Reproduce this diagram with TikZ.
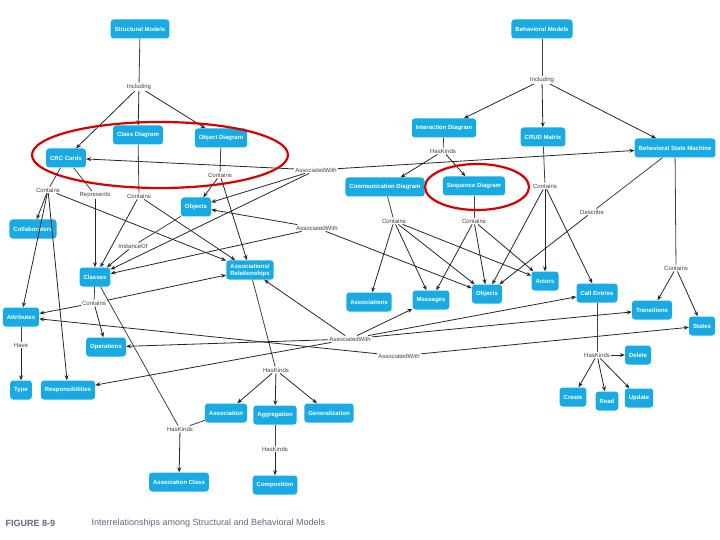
\documentclass[tikz,border=0pt]{standalone}
\usepackage{fontspec}
\setmainfont{Liberation Sans}
\usetikzlibrary{arrows.meta}
\definecolor{box}{RGB}{24,170,226}
\definecolor{cap}{RGB}{100,100,130}
\begin{document}
\begin{tikzpicture}[x=1pt,y=-1pt,
 b/.style={fill=box,text=white,rounded corners=3pt,font=\fontsize{6}{7}\bfseries,inner xsep=4pt,minimum height=19pt,align=center},
 l/.style={font=\fontsize{6}{7}\selectfont,text=black!75,inner sep=1pt,fill=white},
 a/.style={-{Stealth[length=5pt,width=4pt]},thick,black!85},
 n/.style={thick,black!75}]
\useasboundingbox (0,0) rectangle (720,540);
% nodes
\node[b] (SM) at (140,29) {Structural Models};
\node[b] (BM) at (542,29) {Behavioral Models};
\node[l] (I1) at (139,87) {Including};
\node[l] (I2) at (542,80) {Including};
\node[b] (CD) at (138,135) {Class Diagram};
\node[b] (OD) at (221,138) {Object Diagram};
\node[b] (CRC) at (66,158) {CRC Cards};
\node[l] (AW1) at (316,170) {AssociatedWith};
\node[l] (COD) at (220,175) {Contains};
\node[l] (CCRC) at (48,190) {Contains};
\node[l] (REP) at (95,195) {Represents};
\node[l] (CCD) at (139,196) {Contains};
\node[b] (OBJ) at (196,207) {Objects};
\node[b] (COL) at (33,229) {Collaborators};
\node[l] (AW2) at (317,228) {AssociatedWith};
\node[l] (INS) at (133,246) {InstanceOf};
\node[b] (CLA) at (95,277) {Classes};
\node[b] (AR) at (250,270) {Associations/\\Relationships};
\node[l] (CCL) at (94,303) {Contains};
\node[b] (ATT) at (21,317) {Attributes};
\node[b] (OPS) at (106,347) {Operations};
\node[l] (HAV) at (21,345) {Have};
\node[b] (TYP) at (21,390) {Type};
\node[b] (RES) at (68,390) {Responsibilities};
\node[l] (AW3) at (350,339) {AssociatedWith};
\node[l] (AW4) at (399,356) {AssociatedWith};
\node[l] (HAR) at (276,370) {HasKinds};
\node[b] (ASN) at (226,413) {Association};
\node[b] (AGG) at (275,415) {Aggregation};
\node[b] (GEN) at (329,413) {Generalization};
\node[l] (HAC) at (180,429) {HasKinds};
\node[l] (HAG) at (275,449) {HasKinds};
\node[b] (ACL) at (179,482) {Association Class};
\node[b] (CMP) at (275,485) {Composition};
\node[b] (ID) at (444,128) {Interaction Diagram};
\node[b] (CRUD) at (543,137) {CRUD Matrix};
\node[b] (BSM) at (675,148) {Behavioral State Machine};
\node[l] (HID) at (443,151) {HasKinds};
\node[b] (COMM) at (385,187) {Communication Diagram};
\node[b] (SEQ) at (474,186) {Sequence Diagram};
\node[l] (CCR) at (545,186) {Contains};
\node[l] (DES) at (592,212) {Describe};
\node[l] (CCM) at (394,221) {Contains};
\node[l] (CSQ) at (474,221) {Contains};
\node[l] (CBS) at (676,268) {Contains};
\node[b] (ASS) at (369,302) {Associations};
\node[b] (MSG) at (431,300) {Messages};
\node[b] (OBB) at (487,294) {Objects};
\node[b] (ACT) at (545,281) {Actors};
\node[b] (CE) at (597,293) {Call Entries};
\node[b] (TRA) at (652,310) {Transitions};
\node[b] (STA) at (702,326) {States};
\node[l] (HCE) at (597,355) {HasKinds};
\node[b] (DEL) at (638,355) {Delete};
\node[b] (CRE) at (573,397) {Create};
\node[b] (REA) at (607,401) {Read};
\node[b] (UPD) at (639,398) {Update};
% edges
\draw[n] (SM)--(I1); \draw[a] (I1)--(CRC); \draw[a] (I1)--(CD); \draw[a] (I1)--(OD);
\draw[n] (BM)--(I2); \draw[a] (I2)--(ID); \draw[a] (I2)--(CRUD); \draw[a] (I2)--(BSM);
\draw[n] (ID)--(HID); \draw[a] (HID)--(COMM); \draw[a] (HID)--(SEQ);
\draw[n] (CRC)--(CCRC); \draw[a] (CCRC)--(COL); \draw[a] (CCRC)--(ATT); \draw[a] (CCRC)--(RES); \draw[a] (CCRC)--(AR);
\draw[n] (CRC)--(REP); \draw[a] (REP)--(CLA);
\draw[n] (CD)--(CCD); \draw[a] (CCD)--(CLA); \draw[a] (CCD)--(AR);
\draw[n] (OD)--(COD); \draw[a] (COD)--(OBJ); \draw[a] (COD)--(AR);
\draw[a] (AW1)--(CRC); \draw[a] (AW1)--(BSM); \draw[a] (AW1)--(OBJ); \draw[a] (AW1)--(CLA);
\draw[n] (OBJ)--(INS); \draw[a] (INS)--(CLA);
\draw[a] (AW2)--(OBJ); \draw[a] (AW2)--(CLA); \draw[a] (AW2)--(OBB);
\draw[n] (CLA)--(CCL); \draw[a] (CCL)--(ATT); \draw[a] (CCL)--(OPS); \draw[a] (CCL)--(AR);
\draw[n] (ATT)--(HAV); \draw[a] (HAV)--(TYP);
\draw[n] (CLA)--(HAC); \draw[n] (ASN)--(HAC); \draw[a] (HAC)--(ACL);
\draw[n] (AR)--(HAR); \draw[a] (HAR)--(ASN); \draw[a] (HAR)--(AGG); \draw[a] (HAR)--(GEN);
\draw[n] (AGG)--(HAG); \draw[a] (HAG)--(CMP);
\draw[a] (AW3)--(AR); \draw[a] (AW3)--(OPS); \draw[a] (AW3)--(RES); \draw[a] (AW3)--(MSG); \draw[a] (AW3)--(CE); \draw[a] (AW3)--(TRA);
\draw[a] (AW4)--(ATT); \draw[a] (AW4)--(STA);
\draw[n] (COMM)--(CCM); \draw[a] (CCM)--(ASS); \draw[a] (CCM)--(MSG); \draw[a] (CCM)--(OBB); \draw[a] (CCM)--(ACT);
\draw[n] (SEQ)--(CSQ); \draw[a] (CSQ)--(MSG); \draw[a] (CSQ)--(OBB); \draw[a] (CSQ)--(ACT);
\draw[n] (CRUD)--(CCR); \draw[a] (CCR)--(OBB); \draw[a] (CCR)--(ACT); \draw[a] (CCR)--(CE);
\draw[n] (BSM)--(DES); \draw[a] (DES)--(OBB);
\draw[n] (BSM)--(CBS); \draw[a] (CBS)--(TRA); \draw[a] (CBS)--(STA);
\draw[n] (CE)--(HCE); \draw[a] (HCE)--(DEL); \draw[a] (HCE)--(CRE); \draw[a] (HCE)--(REA); \draw[a] (HCE)--(UPD);
% highlights
\draw[red!85!black,line width=2.2pt] (160,155) ellipse [x radius=128, y radius=33];
\draw[red!85!black,line width=2.2pt] (477,187) ellipse [x radius=52, y radius=23];
% caption
\node[anchor=west,font=\fontsize{9}{10}\bfseries,text=cap] (FIG) at (2,523) {FIGURE 8-9};
\node[anchor=west,font=\fontsize{9}{10}\selectfont,text=cap] (CAP) at (88,523) {Interrelationships among Structural and Behavioral Models};
\end{tikzpicture}
\end{document}
